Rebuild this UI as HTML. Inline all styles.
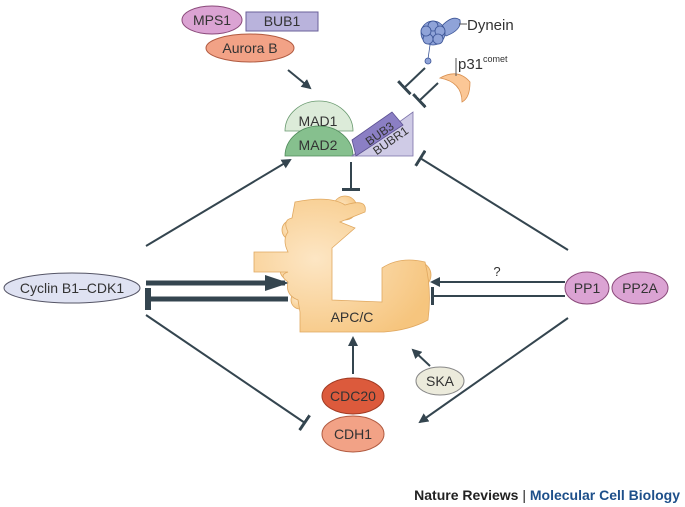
<!DOCTYPE html>
<html><head><style>
body{margin:0;background:#fff}
svg{display:block}
text{font-family:"Liberation Sans",sans-serif;fill:#333}
</style></head><body>
<svg width="685" height="507" viewBox="0 0 685 507" xmlns="http://www.w3.org/2000/svg">
<defs>
<marker id="ah" markerWidth="10" markerHeight="10" refX="8" refY="5" orient="auto" markerUnits="userSpaceOnUse"><path d="M0,0 L10,5 L0,10 z" fill="#34454f"/></marker>
<marker id="ahb" markerWidth="24" markerHeight="16" refX="20" refY="8" orient="auto" markerUnits="userSpaceOnUse"><path d="M0,0 L24,8 L0,16 z" fill="#34454f"/></marker>
<marker id="bar" markerWidth="4" markerHeight="18" refX="2" refY="9" orient="auto" markerUnits="userSpaceOnUse"><rect x="0" y="0" width="3" height="18" fill="#34454f"/></marker>
<marker id="barb" markerWidth="6" markerHeight="22" refX="3" refY="11" orient="auto" markerUnits="userSpaceOnUse"><rect x="0" y="0" width="6" height="22" fill="#34454f"/></marker>
<radialGradient id="apc" cx="0.35" cy="0.45" r="0.7"><stop offset="0" stop-color="#fde6c4"/><stop offset="1" stop-color="#f6c57e"/></radialGradient>
</defs>
<g stroke="#34454f" stroke-width="2" fill="none">
<line x1="288" y1="70" x2="310" y2="88" marker-end="url(#ah)"/>
<line x1="425" y1="68" x2="404" y2="88" marker-end="url(#bar)"/>
<line x1="438" y1="83" x2="419" y2="101" marker-end="url(#bar)"/>
<line x1="351" y1="162" x2="351" y2="190" marker-end="url(#bar)"/>
<line x1="146" y1="246" x2="290" y2="160" marker-end="url(#ah)"/>
<line x1="568" y1="250" x2="420" y2="158" marker-end="url(#bar)"/>
<line x1="565" y1="282" x2="432" y2="282" marker-end="url(#ah)"/>
<line x1="565" y1="296" x2="432" y2="296" marker-end="url(#bar)"/>
<line x1="146" y1="315" x2="305" y2="423" marker-end="url(#bar)"/>
<line x1="568" y1="318" x2="420" y2="422" marker-end="url(#ah)"/>
<line x1="353" y1="374" x2="353" y2="338" marker-end="url(#ah)"/>
<line x1="430" y1="366" x2="413" y2="350" marker-end="url(#ah)"/>
<line x1="146" y1="283" x2="285" y2="283" stroke-width="5" marker-end="url(#ahb)"/>
<line x1="288" y1="299" x2="148" y2="299" stroke-width="5" marker-end="url(#barb)"/>
</g>
<text x="497" y="276" font-size="13" text-anchor="middle">?</text>
<!-- APC/C -->
<g fill="url(#apc)" stroke="#e0a860" stroke-width="0.8">
<circle cx="292" cy="230" r="10"/>
<circle cx="290" cy="270" r="10"/>
<circle cx="300" cy="300" r="9"/>
<circle cx="345" cy="208" r="12"/>
<circle cx="418" cy="275" r="13"/>
<path d="M295,202 Q330,195 345,205 Q368,198 365,212 L340,222 L355,228 L332,248 L332,300 L382,302 L382,268 Q400,256 425,262 Q432,290 428,320 Q410,330 384,332 L300,332 L300,312 L298,300 Q285,295 288,282 Q278,275 288,272 L254,272 L254,252 L288,252 Q282,240 288,232 Q282,220 292,218 Z"/>
</g>
<text x="352" y="322" font-size="14" text-anchor="middle">APC/C</text>
<!-- MAD1/MAD2 -->
<path d="M285,131 A34,30 0 0 1 353,131 Z" fill="#dcebd9" stroke="#6a9a70" stroke-width="0.8"/>
<path d="M285,156 A34,30 0 0 1 353,156 Z" fill="#86c08e" stroke="#4f8a5a" stroke-width="0.8"/>
<text x="318" y="126" font-size="14" text-anchor="middle">MAD1</text>
<text x="318" y="150" font-size="14" text-anchor="middle">MAD2</text>
<path d="M352,156 L413,156 L413,112 Z" fill="#cfcbe6" stroke="#7a70a8" stroke-width="0.8"/>
<path d="M352,140 L392,112 L403,125 L356,156 Z" fill="#8b7fc4" stroke="#5a4f90" stroke-width="0.8"/>
<text transform="translate(382,137) rotate(-35)" font-size="12" text-anchor="middle">BUB3</text>
<text transform="translate(393,144) rotate(-35)" font-size="12" text-anchor="middle">BUBR1</text>
<!-- top -->
<ellipse cx="212" cy="20" rx="30" ry="14" fill="#dba3d3" stroke="#8a4a7a"/>
<text x="212" y="25" font-size="14" text-anchor="middle">MPS1</text>
<rect x="246" y="12" width="72" height="19" fill="#b9b3dc" stroke="#6a609a"/>
<text x="282" y="26" font-size="14" text-anchor="middle">BUB1</text>
<ellipse cx="250" cy="48" rx="44" ry="14" fill="#f2a286" stroke="#b05a40"/>
<text x="250" y="53" font-size="14" text-anchor="middle">Aurora B</text>
<!-- dynein -->
<g fill="#8fa3d8" stroke="#3b5496" stroke-width="0.8">
<path d="M440,28 Q452,14 460,20 Q462,30 446,36 Z"/>
<circle cx="433" cy="33" r="12"/>
<circle cx="433" cy="26" r="5"/><circle cx="440" cy="31" r="5"/><circle cx="438" cy="39" r="5"/><circle cx="428" cy="39" r="5"/><circle cx="426" cy="31" r="5"/>
<line x1="430" y1="45" x2="428" y2="59"/><circle cx="428" cy="61" r="3"/>
</g>
<line x1="459" y1="24" x2="467" y2="24" stroke="#555"/>
<text x="467" y="30" font-size="15">Dynein</text>
<path d="M440,78 Q458,68 470,82 Q470,98 462,102 Q462,82 440,78 Z" fill="#fbc796" stroke="#d99050" stroke-width="0.8"/>
<line x1="456" y1="58" x2="456" y2="76" stroke="#555"/>
<text x="458" y="69" font-size="15">p31<tspan font-size="9" dy="-7">comet</tspan></text>
<!-- sides -->
<ellipse cx="72" cy="288" rx="68" ry="15" fill="#dfe2f2" stroke="#556"/>
<text x="72" y="293" font-size="14" text-anchor="middle">Cyclin B1–CDK1</text>
<ellipse cx="587" cy="288" rx="22" ry="16" fill="#dba3d3" stroke="#8a4a7a"/>
<text x="587" y="293" font-size="14" text-anchor="middle">PP1</text>
<ellipse cx="640" cy="288" rx="28" ry="16" fill="#dba3d3" stroke="#8a4a7a"/>
<text x="640" y="293" font-size="14" text-anchor="middle">PP2A</text>
<ellipse cx="440" cy="381" rx="24" ry="14" fill="#ecebdc" stroke="#888"/>
<text x="440" y="386" font-size="14" text-anchor="middle">SKA</text>
<ellipse cx="353" cy="396" rx="31" ry="18" fill="#dc5a3c" stroke="#a03a22"/>
<text x="353" y="401" font-size="14" text-anchor="middle">CDC20</text>
<ellipse cx="353" cy="434" rx="31" ry="18" fill="#f2a286" stroke="#b05a40"/>
<text x="353" y="439" font-size="14" text-anchor="middle">CDH1</text>
<text x="680" y="500" font-size="14" font-weight="bold" text-anchor="end"><tspan fill="#222">Nature Reviews</tspan><tspan fill="#222" font-weight="normal"> | </tspan><tspan fill="#1d4f8a">Molecular Cell Biology</tspan></text>
</svg>
</body></html>
